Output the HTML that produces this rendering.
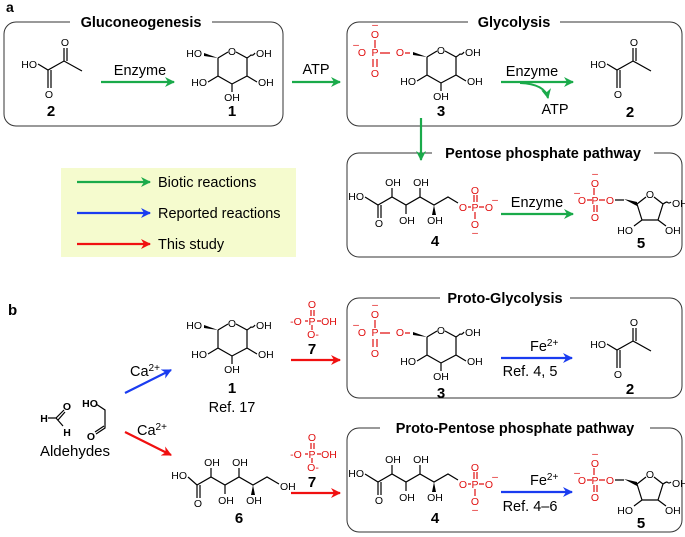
<!DOCTYPE html>
<html><head><meta charset="utf-8"><style>
html,body{margin:0;padding:0;background:#fff;}
svg{display:block;font-family:"Liberation Sans",Arial,sans-serif;}
.a{font-size:10.5px;fill:#000}
.r{font-size:10.5px;fill:#e01010}
.n{font-size:15px;font-weight:bold}
.t{font-size:14.5px;font-weight:bold}
.l{font-size:14.5px}
.k{stroke:#000;stroke-width:1.2;fill:none}
.kr{stroke:#e01010;stroke-width:1.2;fill:none}
</style></head><body>
<svg width="685" height="537" viewBox="0 0 685 537" xmlns="http://www.w3.org/2000/svg">
<defs>
<marker id="mg" markerWidth="10" markerHeight="10" refX="9" refY="5" orient="auto" markerUnits="userSpaceOnUse"><path d="M0,0 L10,5 L0,10 L3,5 Z" fill="#1aaa4a"/></marker>
<marker id="mb" markerWidth="10" markerHeight="10" refX="9" refY="5" orient="auto" markerUnits="userSpaceOnUse"><path d="M0,0 L10,5 L0,10 L3,5 Z" fill="#1a3cf0"/></marker>
<marker id="mr" markerWidth="10" markerHeight="10" refX="9" refY="5" orient="auto" markerUnits="userSpaceOnUse"><path d="M0,0 L10,5 L0,10 L3,5 Z" fill="#f01010"/></marker>
</defs>

<text x="6" y="12" style="font-size:14px;font-weight:bold">a</text>
<text x="8" y="315" style="font-size:15px;font-weight:bold">b</text>

<rect x="4" y="22" width="279" height="104" rx="12" fill="none" stroke="#333" stroke-width="1"/>
<rect x="70" y="14" width="142" height="16" fill="#fff"/>
<text x="141" y="27" text-anchor="middle" class="t">Gluconeogenesis</text>

<rect x="347" y="22" width="335" height="104" rx="12" fill="none" stroke="#333" stroke-width="1"/>
<rect x="468" y="14" width="92" height="16" fill="#fff"/>
<text x="514" y="27" text-anchor="middle" class="t">Glycolysis</text>

<rect x="347" y="153" width="335" height="104" rx="12" fill="none" stroke="#333" stroke-width="1"/>
<rect x="432" y="145" width="222" height="16" fill="#fff"/>
<text x="543" y="158" text-anchor="middle" class="t">Pentose phosphate pathway</text>

<rect x="347" y="298" width="335" height="100" rx="12" fill="none" stroke="#333" stroke-width="1"/>
<rect x="440" y="290" width="130" height="16" fill="#fff"/>
<text x="505" y="303" text-anchor="middle" class="t">Proto-Glycolysis</text>

<rect x="347" y="428" width="335" height="104" rx="12" fill="none" stroke="#333" stroke-width="1"/>
<rect x="380" y="420" width="270" height="16" fill="#fff"/>
<text x="515" y="433" text-anchor="middle" class="t">Proto-Pentose phosphate pathway</text>

<rect x="61" y="168" width="235" height="89" fill="#f5fbce"/>
<line x1="77" y1="182" x2="150" y2="182" stroke="#1aaa4a" stroke-width="2.2" marker-end="url(#mg)"/>
<line x1="77" y1="213" x2="150" y2="213" stroke="#1a3cf0" stroke-width="2.2" marker-end="url(#mb)"/>
<line x1="77" y1="244" x2="150" y2="244" stroke="#f01010" stroke-width="2.2" marker-end="url(#mr)"/>
<text x="158" y="187" class="l">Biotic reactions</text>
<text x="158" y="218" class="l">Reported reactions</text>
<text x="158" y="249" class="l">This study</text>

<g transform="translate(48,70)">
<path class="k" d="M-10,-6 L0,0 L16,-9 L34,1 M16,-9 V-22 M19,-9 V-22 M0,0 V18 M3,0 V18"/>
<text class="a" x="-11" y="-2" text-anchor="end">HO</text>
<text class="a" x="17" y="-24" text-anchor="middle">O</text>
<text class="a" x="1" y="28" text-anchor="middle">O</text>
<text class="n" x="3" y="46" text-anchor="middle">2</text>
</g>
<g transform="translate(617,70)">
<path class="k" d="M-10,-6 L0,0 L16,-9 L34,1 M16,-9 V-22 M19,-9 V-22 M0,0 V18 M3,0 V18"/>
<text class="a" x="-11" y="-2" text-anchor="end">HO</text>
<text class="a" x="17" y="-24" text-anchor="middle">O</text>
<text class="a" x="1" y="28" text-anchor="middle">O</text>
<text class="n" x="13" y="47" text-anchor="middle">2</text>
</g>
<g transform="translate(617,350)">
<path class="k" d="M-10,-6 L0,0 L16,-9 L34,1 M16,-9 V-22 M19,-9 V-22 M0,0 V18 M3,0 V18"/>
<text class="a" x="-11" y="-2" text-anchor="end">HO</text>
<text class="a" x="17" y="-24" text-anchor="middle">O</text>
<text class="a" x="1" y="28" text-anchor="middle">O</text>
<text class="n" x="13" y="44" text-anchor="middle">2</text>
</g>

<g transform="translate(218,58)">
<path class="k" d="M0,0 L10,-6 M18,-6 L29,0 L29,18 L14,26 L0,18 L0,0 M0,18 L-10,24 M29,18 L39,24 M14,26 V34 M29,0 q3,-2 4,-3 q2,1 4,-2"/>
<path d="M0,0 L-14,-5 L-14,-2 Z" fill="#000"/>
<text class="a" x="14" y="-3" text-anchor="middle">O</text>
<text class="a" x="-16" y="-1" text-anchor="end">HO</text>
<text class="a" x="38" y="-1">OH</text>
<text class="a" x="-11" y="28" text-anchor="end">HO</text>
<text class="a" x="40" y="28">OH</text>
<text class="a" x="14" y="43" text-anchor="middle">OH</text>
<text class="n" x="14" y="58" text-anchor="middle">1</text>
</g>
<g transform="translate(218,330)">
<path class="k" d="M0,0 L10,-6 M18,-6 L29,0 L29,18 L14,26 L0,18 L0,0 M0,18 L-10,24 M29,18 L39,24 M14,26 V34 M29,0 q3,-2 4,-3 q2,1 4,-2"/>
<path d="M0,0 L-14,-5 L-14,-2 Z" fill="#000"/>
<text class="a" x="14" y="-3" text-anchor="middle">O</text>
<text class="a" x="-16" y="-1" text-anchor="end">HO</text>
<text class="a" x="38" y="-1">OH</text>
<text class="a" x="-11" y="28" text-anchor="end">HO</text>
<text class="a" x="40" y="28">OH</text>
<text class="a" x="14" y="43" text-anchor="middle">OH</text>
<text class="n" x="14" y="63" text-anchor="middle">1</text>
<text class="l" x="14" y="82" text-anchor="middle">Ref. 17</text>
</g>

<g transform="translate(427,57)">
<path class="k" d="M0,0 L10,-6 M18,-6 L29,0 L29,18 L14,26 L0,18 L0,0 M0,18 L-10,24 M29,18 L39,24 M14,26 V34 M29,0 q3,-2 4,-3 q2,1 4,-2"/>
<path d="M0,0 L-14,-5 L-14,-2 Z" fill="#000"/>
<text class="a" x="14" y="-3" text-anchor="middle">O</text>
<text class="a" x="-11" y="28" text-anchor="end">HO</text>
<text class="a" x="40" y="28">OH</text>
<text class="a" x="38" y="-1">OH</text>
<text class="a" x="14" y="43" text-anchor="middle">OH</text>
<text class="n" x="14" y="59" text-anchor="middle">3</text>
<text class="r" x="-27" y="-1" text-anchor="middle">O</text>
<path class="kr" d="M-22,-4 H-17 M-37,-4 H-47 M-52,-9 V-17 M-54,2 V10 M-50,2 V10"/>
<text class="r" x="-52" y="-1" text-anchor="middle">P</text>
<text class="r" x="-52" y="-19" text-anchor="middle">O</text>
<text class="r" x="-52" y="-29" text-anchor="middle">–</text>
<text class="r" x="-52" y="20" text-anchor="middle">O</text>
<text class="r" x="-65" y="-1" text-anchor="middle">O</text>
<text class="r" x="-71" y="-9" text-anchor="middle">–</text>
</g>
<g transform="translate(427,337)">
<path class="k" d="M0,0 L10,-6 M18,-6 L29,0 L29,18 L14,26 L0,18 L0,0 M0,18 L-10,24 M29,18 L39,24 M14,26 V34 M29,0 q3,-2 4,-3 q2,1 4,-2"/>
<path d="M0,0 L-14,-5 L-14,-2 Z" fill="#000"/>
<text class="a" x="14" y="-3" text-anchor="middle">O</text>
<text class="a" x="-11" y="28" text-anchor="end">HO</text>
<text class="a" x="40" y="28">OH</text>
<text class="a" x="38" y="-1">OH</text>
<text class="a" x="14" y="43" text-anchor="middle">OH</text>
<text class="n" x="14" y="61" text-anchor="middle">3</text>
<text class="r" x="-27" y="-1" text-anchor="middle">O</text>
<path class="kr" d="M-22,-4 H-17 M-37,-4 H-47 M-52,-9 V-17 M-54,2 V10 M-50,2 V10"/>
<text class="r" x="-52" y="-1" text-anchor="middle">P</text>
<text class="r" x="-52" y="-19" text-anchor="middle">O</text>
<text class="r" x="-52" y="-29" text-anchor="middle">–</text>
<text class="r" x="-52" y="20" text-anchor="middle">O</text>
<text class="r" x="-65" y="-1" text-anchor="middle">O</text>
<text class="r" x="-71" y="-9" text-anchor="middle">–</text>
</g>

<g transform="translate(0,0)">
<path class="k" d="M365,197 L378,205 L392,197 L406,205 L420,197 L434,205 L448,197 L458,203 M378,205 V218 M381,205 V218 M392,197 V188 M406,205 V214 M420,197 V188"/>
<path d="M434,205 L432,215 L436,215 Z" fill="#000"/>
<text class="a" x="364" y="200" text-anchor="end">HO</text>
<text class="a" x="379" y="227" text-anchor="middle">O</text>
<text class="a" x="393" y="186" text-anchor="middle">OH</text>
<text class="a" x="421" y="186" text-anchor="middle">OH</text>
<text class="a" x="407" y="224" text-anchor="middle">OH</text>
<text class="a" x="435" y="224" text-anchor="middle">OH</text>
<text class="r" x="463" y="211" text-anchor="middle">O</text>
<path class="kr" d="M468,207 H471 M479,207 H484 M474,202 V195 M477,202 V195 M475,212 V219"/>
<text class="r" x="475" y="211" text-anchor="middle">P</text>
<text class="r" x="475" y="194" text-anchor="middle">O</text>
<text class="r" x="489" y="211" text-anchor="middle">O</text>
<text class="r" x="495" y="203" text-anchor="middle">–</text>
<text class="r" x="475" y="228" text-anchor="middle">O</text>
<text class="r" x="475" y="236" text-anchor="middle">–</text>
<text class="n" x="435" y="246" text-anchor="middle">4</text>
</g>
<g transform="translate(0,277)">
<path class="k" d="M365,197 L378,205 L392,197 L406,205 L420,197 L434,205 L448,197 L458,203 M378,205 V218 M381,205 V218 M392,197 V188 M406,205 V214 M420,197 V188"/>
<path d="M434,205 L432,215 L436,215 Z" fill="#000"/>
<text class="a" x="364" y="200" text-anchor="end">HO</text>
<text class="a" x="379" y="227" text-anchor="middle">O</text>
<text class="a" x="393" y="186" text-anchor="middle">OH</text>
<text class="a" x="421" y="186" text-anchor="middle">OH</text>
<text class="a" x="407" y="224" text-anchor="middle">OH</text>
<text class="a" x="435" y="224" text-anchor="middle">OH</text>
<text class="r" x="463" y="211" text-anchor="middle">O</text>
<path class="kr" d="M468,207 H471 M479,207 H484 M474,202 V195 M477,202 V195 M475,212 V219"/>
<text class="r" x="475" y="211" text-anchor="middle">P</text>
<text class="r" x="475" y="194" text-anchor="middle">O</text>
<text class="r" x="489" y="211" text-anchor="middle">O</text>
<text class="r" x="495" y="203" text-anchor="middle">–</text>
<text class="r" x="475" y="228" text-anchor="middle">O</text>
<text class="r" x="475" y="236" text-anchor="middle">–</text>
<text class="n" x="435" y="246" text-anchor="middle">4</text>
</g>

<g transform="translate(-181,280)">
<path class="k" d="M369,197 L378,205 L392,197 L406,205 L420,197 L434,205 L448,197 L460,204 M378,205 V218 M381,205 V218 M392,197 V188 M406,205 V214 M420,197 V188"/>
<path d="M434,205 L432,215 L436,215 Z" fill="#000"/>
<text class="a" x="368" y="199" text-anchor="end">HO</text>
<text class="a" x="379" y="227" text-anchor="middle">O</text>
<text class="a" x="393" y="186" text-anchor="middle">OH</text>
<text class="a" x="421" y="186" text-anchor="middle">OH</text>
<text class="a" x="407" y="224" text-anchor="middle">OH</text>
<text class="a" x="435" y="224" text-anchor="middle">OH</text>
<text class="a" x="461" y="210">OH</text>
<text class="n" x="420" y="243" text-anchor="middle">6</text>
</g>

<g transform="translate(0,0)">
<text class="r" x="582" y="204" text-anchor="middle">O</text>
<text class="r" x="577" y="196" text-anchor="middle">–</text>
<path class="kr" d="M587,200 H592 M599,200 H605 M594,195 V188 M594,205 V212 M597,205 V212"/>
<text class="r" x="595" y="204" text-anchor="middle">P</text>
<text class="r" x="595" y="187" text-anchor="middle">O</text>
<text class="r" x="595" y="177" text-anchor="middle">–</text>
<text class="r" x="595" y="221" text-anchor="middle">O</text>
<text class="r" x="610" y="204" text-anchor="middle">O</text>
<path class="k" d="M615,200 L624,200 M637,204 L646,197 M654,197 L663,204 L658,220 L642,220 L637,204 M642,220 L634,226 M658,220 L666,226 M663,204 q3,-2 4,-2 q2,2 4,0"/>
<path d="M624,199 L637,202 L637,206 Z" fill="#000"/>
<text class="a" x="650" y="198" text-anchor="middle">O</text>
<text class="a" x="672" y="207">OH</text>
<text class="a" x="633" y="234" text-anchor="end">HO</text>
<text class="a" x="665" y="234">OH</text>
<text class="n" x="641" y="248" text-anchor="middle">5</text>
</g>
<g transform="translate(0,280)">
<text class="r" x="582" y="204" text-anchor="middle">O</text>
<text class="r" x="577" y="196" text-anchor="middle">–</text>
<path class="kr" d="M587,200 H592 M599,200 H605 M594,195 V188 M594,205 V212 M597,205 V212"/>
<text class="r" x="595" y="204" text-anchor="middle">P</text>
<text class="r" x="595" y="187" text-anchor="middle">O</text>
<text class="r" x="595" y="177" text-anchor="middle">–</text>
<text class="r" x="595" y="221" text-anchor="middle">O</text>
<text class="r" x="610" y="204" text-anchor="middle">O</text>
<path class="k" d="M615,200 L624,200 M637,204 L646,197 M654,197 L663,204 L658,220 L642,220 L637,204 M642,220 L634,226 M658,220 L666,226 M663,204 q3,-2 4,-2 q2,2 4,0"/>
<path d="M624,199 L637,202 L637,206 Z" fill="#000"/>
<text class="a" x="650" y="198" text-anchor="middle">O</text>
<text class="a" x="672" y="207">OH</text>
<text class="a" x="633" y="234" text-anchor="end">HO</text>
<text class="a" x="665" y="234">OH</text>
<text class="n" x="641" y="248" text-anchor="middle">5</text>
</g>

<g>
<text class="r" x="312" y="308" text-anchor="middle">O</text>
<path class="kr" d="M311,310 V316 M314,310 V316 M305,321 H308 M317,321 H321 M312,325 V330"/>
<text class="r" x="296" y="325" text-anchor="middle">-O</text>
<text class="r" x="312" y="325" text-anchor="middle">P</text>
<text class="r" x="329" y="325" text-anchor="middle">OH</text>
<text class="r" x="313" y="338" text-anchor="middle">O-</text>
<text class="n" x="312" y="354" text-anchor="middle">7</text>
</g>
<g transform="translate(0,133)">
<text class="r" x="312" y="308" text-anchor="middle">O</text>
<path class="kr" d="M311,310 V316 M314,310 V316 M305,321 H308 M317,321 H321 M312,325 V330"/>
<text class="r" x="296" y="325" text-anchor="middle">-O</text>
<text class="r" x="312" y="325" text-anchor="middle">P</text>
<text class="r" x="329" y="325" text-anchor="middle">OH</text>
<text class="r" x="313" y="338" text-anchor="middle">O-</text>
<text class="n" x="312" y="354" text-anchor="middle">7</text>
</g>

<path class="k" d="M48,418 H56 L64,410 M56,418 L63,426 M58,420 L65,412"/>
<text class="a" x="44" y="422" text-anchor="middle" style="font-weight:bold">H</text>
<text class="a" x="67" y="410" text-anchor="middle" style="font-weight:bold">O</text>
<text class="a" x="67" y="436" text-anchor="middle" style="font-weight:bold">H</text>
<path class="k" d="M96,404 L105,410 V428 L96,434 M104,426 L95,432"/>
<text class="a" x="90" y="407" text-anchor="middle" style="font-weight:bold">HO</text>
<text class="a" x="91" y="440" text-anchor="middle" style="font-weight:bold">O</text>
<text x="75" y="456" text-anchor="middle" style="font-size:15px">Aldehydes</text>

<line x1="101" y1="82" x2="174" y2="82" stroke="#1aaa4a" stroke-width="2.2" marker-end="url(#mg)"/>
<text x="140" y="75" text-anchor="middle" class="l">Enzyme</text>
<line x1="292" y1="82" x2="340" y2="82" stroke="#1aaa4a" stroke-width="2.2" marker-end="url(#mg)"/>
<text x="316" y="74" text-anchor="middle" class="l">ATP</text>
<line x1="501" y1="82" x2="573" y2="82" stroke="#1aaa4a" stroke-width="2.2" marker-end="url(#mg)"/>
<path d="M520,83 Q545,84 548,98" stroke="#1aaa4a" stroke-width="2" fill="none" marker-end="url(#mg)"/>
<text x="532" y="76" text-anchor="middle" class="l">Enzyme</text>
<text x="555" y="114" text-anchor="middle" class="l">ATP</text>
<line x1="421" y1="118" x2="421" y2="160" stroke="#1aaa4a" stroke-width="2.2" marker-end="url(#mg)"/>
<line x1="501" y1="214" x2="573" y2="214" stroke="#1aaa4a" stroke-width="2.2" marker-end="url(#mg)"/>
<text x="537" y="207" text-anchor="middle" class="l">Enzyme</text>

<line x1="125" y1="393" x2="171" y2="370" stroke="#1a3cf0" stroke-width="2.2" marker-end="url(#mb)"/>
<text x="130" y="376" class="l">Ca<tspan dy="-5" style="font-size:10px">2+</tspan></text>
<line x1="125" y1="432" x2="171" y2="455" stroke="#f01010" stroke-width="2.2" marker-end="url(#mr)"/>
<text x="137" y="435" class="l">Ca<tspan dy="-5" style="font-size:10px">2+</tspan></text>
<line x1="291" y1="360" x2="340" y2="360" stroke="#f01010" stroke-width="2.2" marker-end="url(#mr)"/>
<line x1="291" y1="493" x2="340" y2="493" stroke="#f01010" stroke-width="2.2" marker-end="url(#mr)"/>

<line x1="501" y1="358" x2="572" y2="358" stroke="#1a3cf0" stroke-width="2.2" marker-end="url(#mb)"/>
<text x="530" y="351" class="l">Fe<tspan dy="-5" style="font-size:10px">2+</tspan></text>
<text x="530" y="376" text-anchor="middle" class="l">Ref. 4, 5</text>
<line x1="501" y1="492" x2="572" y2="492" stroke="#1a3cf0" stroke-width="2.2" marker-end="url(#mb)"/>
<text x="530" y="485" class="l">Fe<tspan dy="-5" style="font-size:10px">2+</tspan></text>
<text x="530" y="511" text-anchor="middle" class="l">Ref. 4–6</text>
</svg>
</body></html>
